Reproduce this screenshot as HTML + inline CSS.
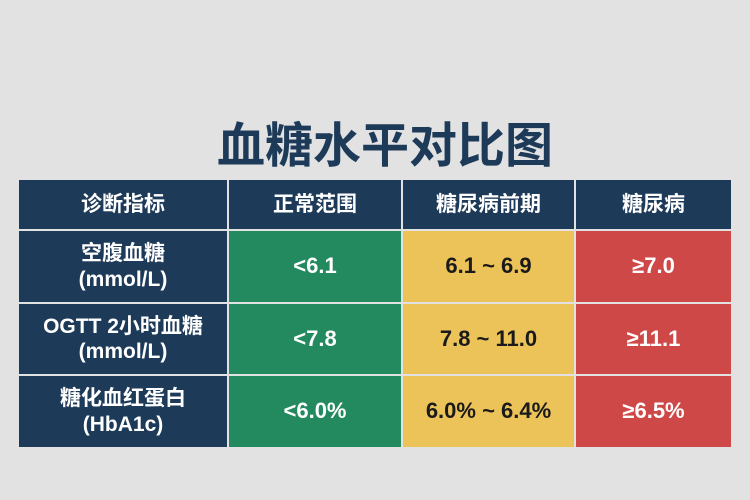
<!DOCTYPE html>
<html><head><meta charset="utf-8"><style>
body{margin:0;width:750px;height:500px;background:#e2e2e2;position:relative;overflow:hidden;font-family:"Liberation Sans","Noto Sans CJK SC",sans-serif}
.t{position:absolute;left:10px;width:750px;top:106px;text-align:center;font-size:48px;font-weight:bold;color:#1d3a58;letter-spacing:0px;font-family:"Noto Sans CJK SC",sans-serif}
.c{position:absolute;display:flex;align-items:center;justify-content:center;text-align:center;font-weight:bold;line-height:1.2}
.n{background:#1e3a59;color:#fff;font-size:21px}
.g{background:#238a5f;color:#fff;font-size:22px}
.y{background:#ecc358;color:#1a1a1a;font-size:22px}
.r{background:#cf4848;color:#fff;font-size:22px}
</style></head><body>
<div class="t">血糖水平对比图</div>
<div class="c n" style="left:19px;top:180px;width:208px;height:49px">诊断指标</div>
<div class="c n" style="left:229px;top:180px;width:172px;height:49px">正常范围</div>
<div class="c n" style="left:403px;top:180px;width:171px;height:49px">糖尿病前期</div>
<div class="c n" style="left:576px;top:180px;width:155px;height:49px">糖尿病</div>

<div class="c n" style="left:19px;top:231px;width:208px;height:71px">空腹血糖<br>(mmol/L)</div>
<div class="c g" style="left:229px;top:231px;width:172px;height:71px">&lt;6.1</div>
<div class="c y" style="left:403px;top:231px;width:171px;height:71px">6.1 ~ 6.9</div>
<div class="c r" style="left:576px;top:231px;width:155px;height:71px">≥7.0</div>

<div class="c n" style="left:19px;top:304px;width:208px;height:70px">OGTT 2小时血糖<br>(mmol/L)</div>
<div class="c g" style="left:229px;top:304px;width:172px;height:70px">&lt;7.8</div>
<div class="c y" style="left:403px;top:304px;width:171px;height:70px">7.8 ~ 11.0</div>
<div class="c r" style="left:576px;top:304px;width:155px;height:70px">≥11.1</div>

<div class="c n" style="left:19px;top:376px;width:208px;height:71px">糖化血红蛋白<br>(HbA1c)</div>
<div class="c g" style="left:229px;top:376px;width:172px;height:71px">&lt;6.0%</div>
<div class="c y" style="left:403px;top:376px;width:171px;height:71px">6.0% ~ 6.4%</div>
<div class="c r" style="left:576px;top:376px;width:155px;height:71px">≥6.5%</div>
</body></html>
